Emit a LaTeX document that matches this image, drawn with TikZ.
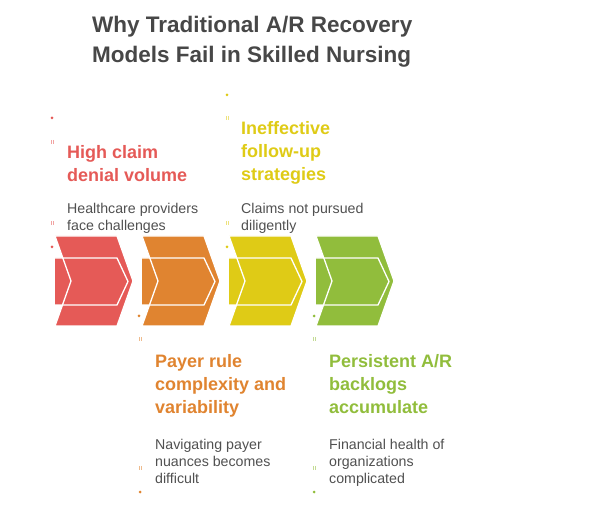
\documentclass[tikz,border=0pt]{standalone}
\usepackage{fontspec}
\setmainfont{Liberation Sans}
\definecolor{cred}{HTML}{E55A57}
\definecolor{corange}{HTML}{E08430}
\definecolor{cyellow}{HTML}{DFCB16}
\definecolor{cgreen}{HTML}{91BD3C}
\definecolor{ctitle}{HTML}{474747}
\definecolor{cbody}{HTML}{505050}
\tikzset{
  titletext/.style={anchor=base west, inner sep=0pt, text=ctitle, font=\fontsize{22.5}{30}\selectfont\bfseries},
  headtext/.style={anchor=base west, inner sep=0pt, font=\fontsize{18}{23}\selectfont\bfseries},
  bodytext/.style={anchor=base west, inner sep=0pt, text=cbody, font=\fontsize{14.2}{16.8}\selectfont},
  tickline/.style={line width=0.6pt, opacity=0.55},
  outline/.style={draw=white, line width=1.3pt}
}
\newcommand{\tb}[2]{\parbox[t]{#1pt}{\raggedright #2}}
\begin{document}
\begin{tikzpicture}[x=1pt,y=-1pt]
\useasboundingbox (0,0) rectangle (600,510);
% title
\node[titletext] (title) at (92,33) {\tb{400}{Why Traditional A/R Recovery\\Models Fail in Skilled Nursing}};
% chevrons
\foreach \x/\c in {55/cred,142/corange,229/cyellow,316/cgreen}{
  \fill[\c] (\x,258) -- ++(62,0) -- ++(11,23.5) -- ++(-11,23.5) -- ++(-62,0) -- cycle;
  \filldraw[fill=\c, outline] (\x,236) -- ++(62,0) -- ++(16,45) -- ++(-16,45) -- ++(-62,0) -- ++(16,-45) -- cycle;
  \draw[outline] (\x,258) -- ++(62,0) -- ++(11,23.5) -- ++(-11,23.5) -- ++(-62,0);
}
% headings and bodies
\node[headtext, text=cred] (h1) at (67,159) {\tb{200}{High claim\\denial volume}};
\node[bodytext] (b1) at (67,214) {\tb{200}{Healthcare providers\\face challenges}};
\node[headtext, text=cyellow] (h3) at (241,135) {\tb{200}{Ineffective\\follow-up\\strategies}};
\node[bodytext] (b3) at (241,214) {\tb{200}{Claims not pursued\\diligently}};
\node[headtext, text=corange] (h2) at (155,368) {\tb{200}{Payer rule\\complexity and\\variability}};
\node[bodytext] (b2) at (155,450) {\tb{200}{Navigating payer\\nuances becomes\\difficult}};
\node[headtext, text=cgreen] (h4) at (329,368) {\tb{200}{Persistent A/R\\backlogs\\accumulate}};
\node[bodytext] (b4) at (329,450) {\tb{200}{Financial health of\\organizations\\complicated}};
% small marks
\foreach \x/\y/\c in {52/118/cred,52/247/cred,227/95/cyellow,227/247/cyellow,139/316/corange,140/492/corange,314/316/cgreen,314/492/cgreen}{
  \fill[\c] (\x,\y) circle (1.5);
}
\foreach \x/\y/\c in {52/142/cred,52/223/cred,227/118/cyellow,227/223/cyellow,140/339/corange,140/468/corange,314/339/cgreen,314/468/cgreen}{
  \draw[\c, tickline] (\x-1,\y-2) -- (\x-1,\y+2) (\x+1,\y-2) -- (\x+1,\y+2);
}
\end{tikzpicture}
\end{document}
